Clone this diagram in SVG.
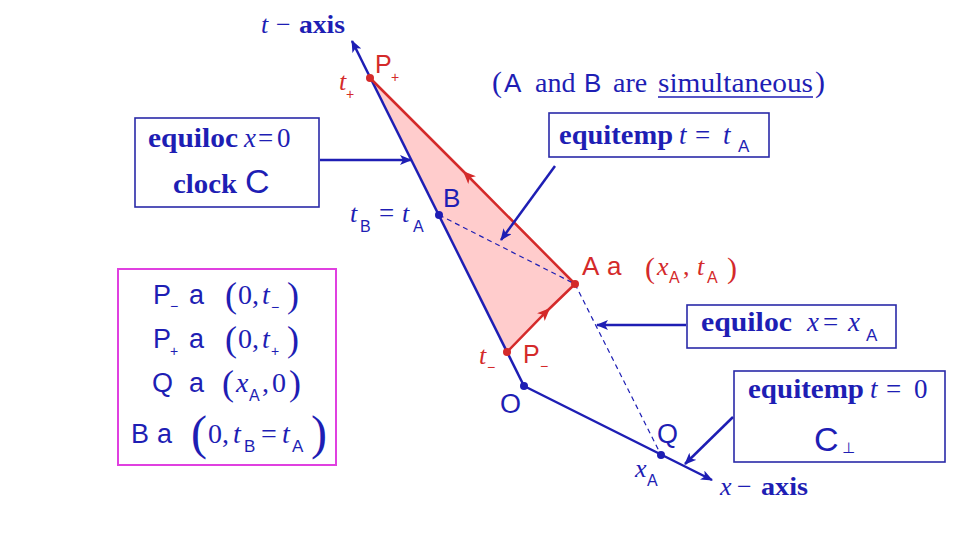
<svg xmlns="http://www.w3.org/2000/svg" width="960" height="540" viewBox="0 0 960 540">
  <style>
    .serif { font-family: "Liberation Serif", "Times New Roman", serif; }
    .sans { font-family: "Liberation Sans", Arial, sans-serif; }
    .bold { font-weight: bold; }
    .it { font-style: italic; }
    .blue { fill: #1e1eb4; }
    .red { fill: #d42a2a; }
    .box { fill: #ffffff; stroke: #2a2aa8; stroke-width: 1.6; }
    .mbox { fill: #ffffff; stroke: #e040e0; stroke-width: 2; }
    .axis { stroke: #1e1eb4; stroke-width: 2.5; fill: none; }
    .ptr { stroke: #1e1eb4; stroke-width: 2.5; fill: none; }
    .redline { stroke: #d42a2a; stroke-width: 2.5; fill: none; }
    .dash { stroke: #1e1eb4; stroke-width: 1.2; fill: none; stroke-dasharray: 5 4; }
  </style>
  <defs>
    <marker id="arrowBlue" viewBox="0 0 12 10" refX="11" refY="5" markerWidth="12" markerHeight="10" markerUnits="userSpaceOnUse" orient="auto">
      <path d="M0,0 L12,5 L0,10 L3,5 z" fill="#1e1eb4"/>
    </marker>
    <marker id="arrowRed" viewBox="0 0 12 10" refX="8" refY="5" markerWidth="13" markerHeight="11" markerUnits="userSpaceOnUse" orient="auto">
      <path d="M0,0 L12,5 L0,10 L3,5 z" fill="#d42a2a"/>
    </marker>
  </defs>
  <rect width="960" height="540" fill="#ffffff"/>

  <!-- shaded region -->
  <polygon points="370,78 575,284 507,352" fill="#ffcccc"/>

  <g id="connectors">
    <!-- t-axis -->
    <line class="axis" x1="524" y1="386" x2="352" y2="41" marker-end="url(#arrowBlue)"/>
    <!-- x-axis -->
    <line class="axis" x1="524" y1="386" x2="712" y2="480" marker-end="url(#arrowBlue)"/>
    <!-- red light lines -->
    <path class="redline" d="M575,284 L466,174 L370,78" marker-mid="url(#arrowRed)"/>
    <path class="redline" d="M507,352 L547,311 L575,284" marker-mid="url(#arrowRed)"/>
    <!-- dashed lines -->
    <line class="dash" x1="439" y1="215" x2="575" y2="284"/>
    <line class="dash" x1="575" y1="284" x2="661" y2="455"/>
    <!-- pointer arrows -->
    <line class="ptr" x1="320" y1="160" x2="411" y2="160" marker-end="url(#arrowBlue)"/>
    <line class="ptr" x1="555" y1="166" x2="501" y2="240" marker-end="url(#arrowBlue)"/>
    <line class="ptr" x1="686" y1="325" x2="597" y2="325" marker-end="url(#arrowBlue)"/>
    <line class="ptr" x1="733" y1="417" x2="685" y2="464" marker-end="url(#arrowBlue)"/>
  </g>

  <g id="t-axis-label">
    <text class="serif it blue" x="261" y="33" font-size="26">t</text>
    <text class="serif blue" x="276" y="33" font-size="26">−</text>
    <text class="serif bold blue" x="299" y="33" font-size="26" textLength="46" lengthAdjust="spacingAndGlyphs">axis</text>
  </g>

  <g id="x-axis-label">
    <text class="serif it blue" x="720" y="495" font-size="26">x</text>
    <text class="serif blue" x="737" y="495" font-size="26">−</text>
    <text class="serif bold blue" x="761" y="495" font-size="26" textLength="47" lengthAdjust="spacingAndGlyphs">axis</text>
  </g>

  <g id="point-Pplus">
    <circle cx="370" cy="78" r="4" fill="#d42a2a"/>
    <text class="sans red" x="375" y="73" font-size="25">P</text>
    <text class="sans red" x="391" y="82" font-size="14">+</text>
    <text class="serif it red" x="339" y="90" font-size="26">t</text>
    <text class="sans red" x="346" y="99" font-size="14">+</text>
  </g>

  <g id="point-B">
    <circle cx="439" cy="215" r="4" fill="#1e1eb4"/>
    <text class="sans blue" x="443" y="207" font-size="26">B</text>
    <text class="serif it blue" x="350" y="222" font-size="26">t</text>
    <text class="sans blue" x="360" y="232" font-size="16">B</text>
    <text class="serif blue" x="379" y="222" font-size="27">=</text>
    <text class="serif it blue" x="402" y="222" font-size="26">t</text>
    <text class="sans blue" x="413" y="232" font-size="16">A</text>
  </g>

  <g id="point-A">
    <circle cx="575" cy="284" r="4" fill="#d42a2a"/>
    <text class="sans red" x="582" y="275" font-size="26">A</text>
    <text class="sans red" x="607" y="275" font-size="26">a</text>
    <text class="serif red" x="645" y="278" font-size="30">(</text>
    <text class="serif it red" x="657" y="275" font-size="26">x</text>
    <text class="sans red" x="669" y="283" font-size="16">A</text>
    <text class="serif red" x="683" y="275" font-size="26">,</text>
    <text class="serif it red" x="697" y="275" font-size="26">t</text>
    <text class="sans red" x="707" y="283" font-size="16">A</text>
    <text class="serif red" x="727" y="278" font-size="30">)</text>
  </g>

  <g id="point-Pminus">
    <circle cx="507" cy="352" r="4" fill="#d42a2a"/>
    <text class="sans red" x="523" y="363" font-size="25">P</text>
    <text class="sans red" x="540" y="371" font-size="14">−</text>
    <text class="serif it red" x="479" y="364" font-size="26">t</text>
    <text class="sans red" x="487" y="372" font-size="14">−</text>
  </g>

  <g id="point-O">
    <circle cx="524" cy="386" r="4" fill="#1e1eb4"/>
    <text class="sans blue" x="500" y="413" font-size="27">O</text>
  </g>

  <g id="point-Q">
    <circle cx="661" cy="455" r="4" fill="#1e1eb4"/>
    <text class="sans blue" x="657" y="443" font-size="27">Q</text>
    <text class="serif it blue" x="635" y="477" font-size="26">x</text>
    <text class="sans blue" x="647" y="486" font-size="16">A</text>
  </g>

  <g id="note-simultaneous">
    <text class="serif blue" x="492" y="92" font-size="30">(</text>
    <text class="sans blue" x="504" y="92" font-size="26">A</text>
    <text class="serif blue" x="535" y="92" font-size="28">and</text>
    <text class="sans blue" x="584" y="92" font-size="26">B</text>
    <text class="serif blue" x="613" y="92" font-size="28">are</text>
    <text class="serif blue" x="658" y="92" font-size="28" textLength="155" lengthAdjust="spacingAndGlyphs">simultaneous</text>
    <line x1="658" y1="97" x2="813" y2="97" stroke="#1e1eb4" stroke-width="1.5"/>
    <text class="serif blue" x="815" y="92" font-size="30">)</text>
  </g>

  <g id="box-clock-C">
    <rect class="box" x="135" y="118" width="184" height="89"/>
    <text class="serif bold blue" x="148" y="147" font-size="28" textLength="90" lengthAdjust="spacingAndGlyphs">equiloc</text>
    <text class="serif it blue" x="244" y="147" font-size="27">x</text>
    <text class="serif blue" x="258" y="147" font-size="27">=</text>
    <text class="serif blue" x="277" y="147" font-size="27">0</text>
    <text class="serif bold blue" x="173" y="193" font-size="28" textLength="64" lengthAdjust="spacingAndGlyphs">clock</text>
    <text class="sans blue" x="245" y="193" font-size="34">C</text>
  </g>

  <g id="box-equitemp-tA">
    <rect class="box" x="549" y="113" width="220" height="44"/>
    <text class="serif bold blue" x="559" y="144" font-size="28" textLength="114" lengthAdjust="spacingAndGlyphs">equitemp</text>
    <text class="serif it blue" x="679" y="144" font-size="27">t</text>
    <text class="serif blue" x="695" y="144" font-size="27">=</text>
    <text class="serif it blue" x="723" y="144" font-size="27">t</text>
    <text class="sans blue" x="738" y="152" font-size="17">A</text>
  </g>

  <g id="box-equiloc-xA">
    <rect class="box" x="687" y="305" width="209" height="43"/>
    <text class="serif bold blue" x="701" y="331" font-size="28" textLength="91" lengthAdjust="spacingAndGlyphs">equiloc</text>
    <text class="serif it blue" x="807" y="331" font-size="27">x</text>
    <text class="serif blue" x="823" y="331" font-size="27">=</text>
    <text class="serif it blue" x="848" y="331" font-size="27">x</text>
    <text class="sans blue" x="866" y="341" font-size="17">A</text>
  </g>

  <g id="box-equitemp-0">
    <rect class="box" x="734" y="371" width="211" height="91"/>
    <text class="serif bold blue" x="748" y="398" font-size="28" textLength="116" lengthAdjust="spacingAndGlyphs">equitemp</text>
    <text class="serif it blue" x="870" y="398" font-size="27">t</text>
    <text class="serif blue" x="886" y="398" font-size="27">=</text>
    <text class="serif blue" x="914" y="398" font-size="27">0</text>
    <text class="sans blue" x="814" y="451" font-size="34">C</text>
    <text x="842" y="453" font-size="15" class="blue" font-family="DejaVu Sans, sans-serif">⊥</text>
  </g>

  <g id="box-coordinates">
    <rect class="mbox" x="118" y="269" width="218" height="196"/>
    <!-- row 1 -->
    <text class="sans blue" x="153" y="304" font-size="27">P</text>
    <text class="sans blue" x="170" y="311" font-size="14">−</text>
    <text class="sans blue" x="189" y="304" font-size="27">a</text>
    <text class="serif blue" x="225" y="307" font-size="36">(</text>
    <text class="serif blue" x="238" y="304" font-size="28">0,</text>
    <text class="serif it blue" x="262" y="304" font-size="28">t</text>
    <text class="sans blue" x="271" y="312" font-size="14">−</text>
    <text class="serif blue" x="287" y="307" font-size="36">)</text>
    <!-- row 2 -->
    <text class="sans blue" x="153" y="348" font-size="27">P</text>
    <text class="sans blue" x="170" y="356" font-size="14">+</text>
    <text class="sans blue" x="189" y="348" font-size="27">a</text>
    <text class="serif blue" x="225" y="351" font-size="36">(</text>
    <text class="serif blue" x="238" y="348" font-size="28">0,</text>
    <text class="serif it blue" x="262" y="348" font-size="28">t</text>
    <text class="sans blue" x="271" y="356" font-size="14">+</text>
    <text class="serif blue" x="287" y="351" font-size="36">)</text>
    <!-- row 3 -->
    <text class="sans blue" x="152" y="392" font-size="27">Q</text>
    <text class="sans blue" x="189" y="392" font-size="27">a</text>
    <text class="serif blue" x="222" y="395" font-size="36">(</text>
    <text class="serif it blue" x="236" y="392" font-size="28">x</text>
    <text class="sans blue" x="249" y="401" font-size="16">A</text>
    <text class="serif blue" x="262" y="392" font-size="28">,</text>
    <text class="serif blue" x="272" y="392" font-size="28">0</text>
    <text class="serif blue" x="289" y="395" font-size="36">)</text>
    <!-- row 4 -->
    <text class="sans blue" x="131" y="443" font-size="27">B</text>
    <text class="sans blue" x="157" y="443" font-size="27">a</text>
    <text class="serif blue" x="191" y="449" font-size="48">(</text>
    <text class="serif blue" x="208" y="443" font-size="28">0,</text>
    <text class="serif it blue" x="233" y="443" font-size="28">t</text>
    <text class="sans blue" x="244" y="452" font-size="17">B</text>
    <text class="serif blue" x="261" y="443" font-size="28">=</text>
    <text class="serif it blue" x="282" y="443" font-size="28">t</text>
    <text class="sans blue" x="292" y="452" font-size="17">A</text>
    <text class="serif blue" x="311" y="449" font-size="48">)</text>
  </g>
</svg>
